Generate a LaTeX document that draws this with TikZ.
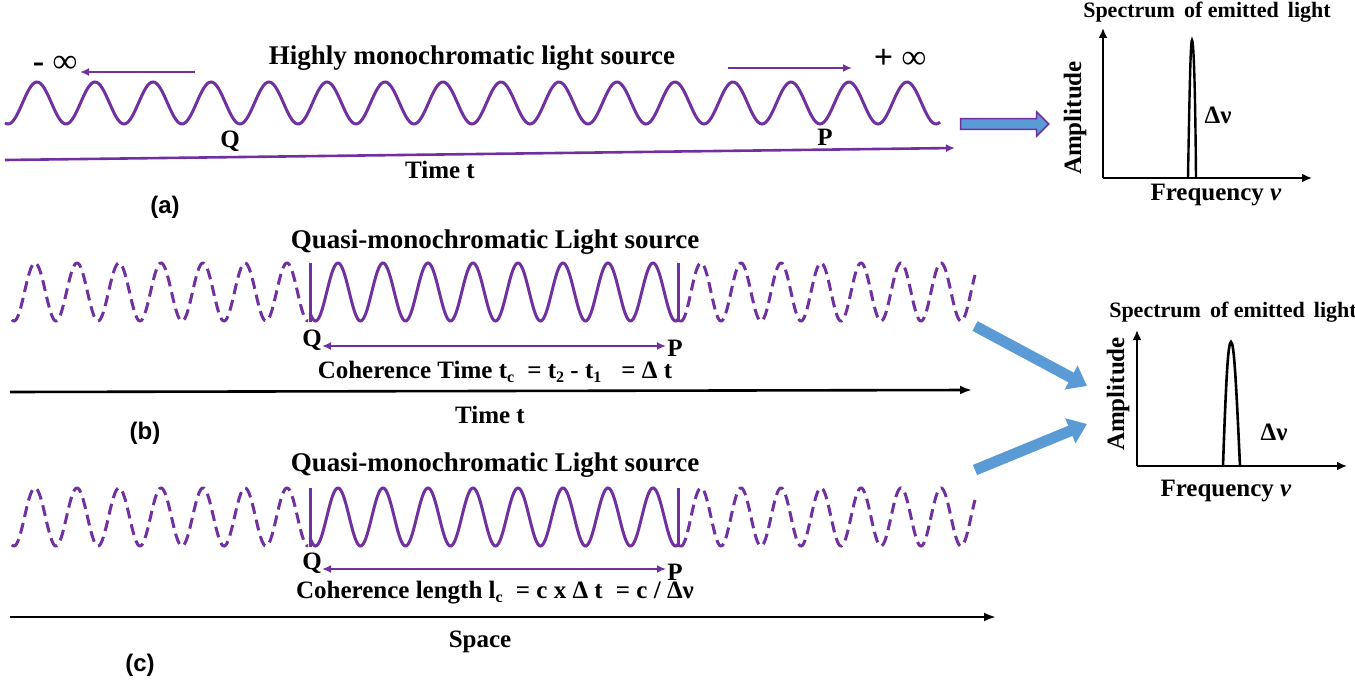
\documentclass[tikz,border=0pt]{standalone}
\usepackage{fontspec}
\setmainfont{Liberation Serif}
\newfontfamily\labfont{Liberation Sans}
\usetikzlibrary{arrows.meta,shapes.arrows}
\definecolor{wv}{HTML}{7030A0}
\definecolor{bl}{HTML}{5B9BD5}
\newcommand{\lowr}[1]{\raisebox{-0.35ex}{\fontsize{16}{16}\selectfont #1}}
\begin{document}
\begin{tikzpicture}[x=1pt,y=-1pt,
  wave/.style={wv,line width=3pt},
  dwave/.style={wv,line width=3pt,dash pattern=on 11pt off 6pt},
  ttl/.style={font=\fontsize{27}{27}\selectfont\bfseries},
  lbl/.style={font=\fontsize{25}{25}\selectfont\bfseries},
  sub/.style={font=\fontsize{24}{24}\selectfont\labfont\bfseries},
  pax/.style={wv,line width=2.2pt,-{Latex[length=9pt,width=8pt]}},
  ax/.style={black,line width=2.6pt,-{Latex[length=10pt,width=9pt]}},
  bax/.style={black,line width=2.6pt,-{Latex[length=12pt,width=9pt]}},
  barrow/.style={line width=11pt,bl,-{Triangle[width=26pt,length=18pt]}}]
\useasboundingbox (0,0) rectangle (1355,682);
% ---------- (a)
\draw[wave] plot[domain=5:940,samples=500,smooth] (\x,{103-21*cos((\x-37)/58*360)});
\node[ttl] (ta) at (472,58) {Highly monochromatic light source};
\node[font=\fontsize{34}{34}\selectfont\bfseries] (minf) at (55,64) {- ∞};
\node[font=\fontsize{34}{34}\selectfont\bfseries] (pinf) at (900,59) {+ ∞};
\coordinate (la1) at (195,72); \coordinate (la2) at (80,72);
\coordinate (ra1) at (728,68); \coordinate (ra2) at (852,68);
\draw[pax] (la1) -- (la2);
\draw[pax] (ra1) -- (ra2);
\node[lbl] (qa) at (230,141) {Q};
\node[lbl] (pa) at (825,137) {P};
\coordinate (axa1) at (5,160); \coordinate (axa2) at (955,148);
\draw[pax,line width=2.6pt] (axa1) -- (axa2);
\node[lbl] (tta) at (440,170) {Time t};
\node[sub] (la) at (165,207) {(a)};
\node[single arrow,draw=wv,fill=bl,line width=1.5pt,minimum width=24pt,single arrow head extend=5pt,minimum height=88pt] (ba) at (1002,124) {};
% spectrum 1
\coordinate (o1) at (1103,178);
\coordinate (y1) at (1103,28);
\coordinate (x1) at (1312,178);
\draw[ax] (o1) -- (y1);
\draw[ax] (o1) -- (x1);
\draw[black,line width=2.4pt] (1188,178) .. controls (1190,60) and (1191,40) .. (1192,40) .. controls (1193,40) and (1195,60) .. (1196,178);
\node[font=\fontsize{22}{22}\selectfont\bfseries] (s1) at (1207,12) {Spectrum\, of emitted\, light};
\node[lbl] (d1) at (1218,115) {Δν};
\node[lbl,rotate=90] (am1) at (1075,118) {Amplitude};
\node[lbl] (f1) at (1216,195) {Frequency \textit{ν}};
% ---------- (b)
\node[ttl] (tb) at (495,242) {Quasi-monochromatic Light source};
\draw[dwave] plot[domain=12:308,samples=400,smooth] (\x,{292-29*cos((\x-35)/42*360)});
\draw[wave] plot[domain=310:678,samples=400,smooth] (\x,{292-29*cos((\x-338)/45*360)});
\draw[dwave] plot[domain=680:975,samples=400,smooth] (\x,{292-29*cos((\x-701)/40*360)});
\draw[wave] (310,263) -- (310,322) (678,263) -- (678,322);
\node[lbl] (qb) at (312,340) {Q};
\node[lbl] (pb) at (675,348) {P};
\coordinate (qb1) at (322,346); \coordinate (pb1) at (666,346);
\draw[pax,{Latex[length=9pt,width=8pt]}-{Latex[length=9pt,width=8pt]}] (qb1) -- (pb1);
\node[lbl] (cb) at (495,372) {Coherence Time t\lowr{c} \;= t\lowr{2} - t\lowr{1} \;\;= Δ t};
\coordinate (axb1) at (10,392); \coordinate (axb2) at (972,390);
\draw[bax] (axb1) -- (axb2);
\node[lbl] (ttb) at (490,415) {Time t};
\node[sub] (lb) at (145,433) {(b)};
% ---------- (c)
\node[ttl] (tc) at (495,465) {Quasi-monochromatic Light source};
\draw[dwave] plot[domain=12:308,samples=400,smooth] (\x,{517-29*cos((\x-35)/42*360)});
\draw[wave] plot[domain=310:678,samples=400,smooth] (\x,{517-29*cos((\x-338)/45*360)});
\draw[dwave] plot[domain=680:975,samples=400,smooth] (\x,{517-29*cos((\x-701)/40*360)});
\draw[wave] (310,488) -- (310,547) (678,488) -- (678,547);
\node[lbl] (qc) at (312,563) {Q};
\node[lbl] (pc) at (675,572) {P};
\coordinate (qc1) at (322,569); \coordinate (pc1) at (666,569);
\draw[pax,{Latex[length=9pt,width=8pt]}-{Latex[length=9pt,width=8pt]}] (qc1) -- (pc1);
\node[lbl] (cc) at (495,593) {Coherence length l\lowr{c} \;= c x Δ t \;= c / Δν};
\coordinate (axc1) at (10,617); \coordinate (axc2) at (996,617);
\draw[bax] (axc1) -- (axc2);
\node[lbl] (sp) at (480,642) {Space};
\node[sub] (lc) at (140,665) {(c)};
% blue arrows
\coordinate (bb1) at (975,326); \coordinate (bb2) at (1087,386);
\coordinate (bc1) at (975,470); \coordinate (bc2) at (1087,424);
\draw[barrow] (bb1) -- (bb2);
\draw[barrow] (bc1) -- (bc2);
% spectrum 2
\coordinate (o2) at (1137,466);
\coordinate (y2) at (1137,330);
\coordinate (x2) at (1347,466);
\draw[ax] (o2) -- (y2);
\draw[ax] (o2) -- (x2);
\draw[black,line width=2.6pt] (1223,466) .. controls (1226,380) and (1228,342) .. (1231,342) .. controls (1234,342) and (1236,380) .. (1240,466);
\node[font=\fontsize{22}{22}\selectfont\bfseries] (s2) at (1233,312) {Spectrum\, of emitted\, light};
\node[lbl] (d2) at (1274,432) {Δν};
\node[lbl,rotate=90] (am2) at (1118,394) {Amplitude};
\node[lbl] (f2) at (1226,491) {Frequency \textit{ν}};
\end{tikzpicture}
\end{document}
